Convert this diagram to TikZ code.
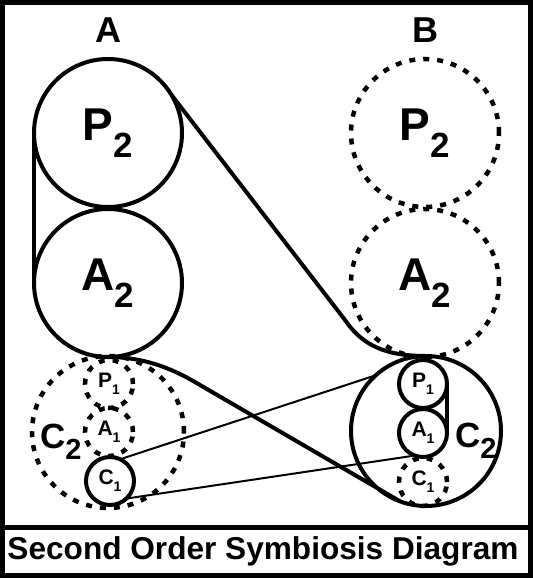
\documentclass[tikz,border=0pt]{standalone}
\usepackage{fontspec}
\setmainfont{Liberation Sans}
\newcommand\biglab[1]{\fontsize{46}{46}\selectfont #1\raisebox{-17pt}{\fontsize{35}{35}\selectfont 2}}
\newcommand\smlab[1]{\fontsize{21}{21}\selectfont #1\raisebox{-7pt}{\fontsize{14}{14}\selectfont 1}}
\newcommand\clab{\fontsize{35}{35}\selectfont C\raisebox{-11pt}{\fontsize{29}{29}\selectfont 2}}
\tikzset{
  solidc/.style={circle, draw, line width=4pt, inner sep=0pt, outer sep=0pt, font=\bfseries},
  dashc/.style={solidc, line width=4.5pt, dash pattern=on 6pt off 8pt},
  conn/.style={line width=4pt, line join=round},
  thinconn/.style={line width=2pt},
  txt/.style={inner sep=0pt, font=\bfseries}
}
\begin{document}
\begin{tikzpicture}[x=1pt,y=-1pt]
\useasboundingbox (0,0) rectangle (533,578);
\fill[white] (0,0) rectangle (533,578);
% frame
\draw[line width=5pt] (2.5,2.5) rectangle (530.5,575.5);
\draw[line width=5pt] (0,527.5) -- (533,527.5);
% column A
\node[txt, anchor=base, font=\bfseries\fontsize{36}{36}\selectfont] (la) at (108,43) {A};
\node[solidc, minimum size=148pt] (pa) at (108,133) {\biglab{P}};
\node[solidc, minimum size=148pt] (aa) at (108,283) {\biglab{A}};
\node[dashc, minimum size=152pt] (ca) at (108,432) {};
\node[dashc, minimum size=48pt] (pa1) at (109,384) {\smlab{P}};
\node[dashc, minimum size=48pt] (aa1) at (109,432) {\smlab{A}};
\node[solidc, minimum size=48pt] (ca1) at (110,481) {\smlab{C}};
\node[txt, anchor=base west] (c2a) at (40,448) {\clab};
\draw[conn] (pa.west) -- (aa.west);
% column B
\node[txt, anchor=base, font=\bfseries\fontsize{36}{36}\selectfont] (lb) at (425,43) {B};
\node[dashc, minimum size=148pt] (pb) at (425,133) {\biglab{P}};
\node[dashc, minimum size=148pt] (ab) at (425,283) {\biglab{A}};
\node[solidc, minimum size=150pt] (cb) at (426,431) {};
\node[solidc, minimum size=48pt] (pb1) at (423,384) {\smlab{P}};
\node[solidc, minimum size=48pt] (ab1) at (423,433) {\smlab{A}};
\node[dashc, minimum size=48pt] (cb1) at (423,482) {\smlab{C}};
\node[txt, anchor=base west] (c2b) at (455,447) {\clab};
\draw[conn] (pb1.east) -- (ab1.east);
% connectors
\coordinate (u1) at (345,320);
\draw[conn] (pa.31) -- (u1) .. controls (362,345) and (385,356) .. (cb.north);
\coordinate (l1) at (200,385);
\draw[conn] (aa.south) .. controls (150,357) and (180,373) .. (l1) -- (cb.250);
\draw[thinconn] (ca1.65) -- (cb.132);
\draw[thinconn] (ca1.-47) -- (ab1.250);
% title
\node[txt, font=\bfseries\fontsize{31.6}{31.6}\selectfont] (title) at (263,551.5) {Second Order Symbiosis Diagram};
\end{tikzpicture}
\end{document}
